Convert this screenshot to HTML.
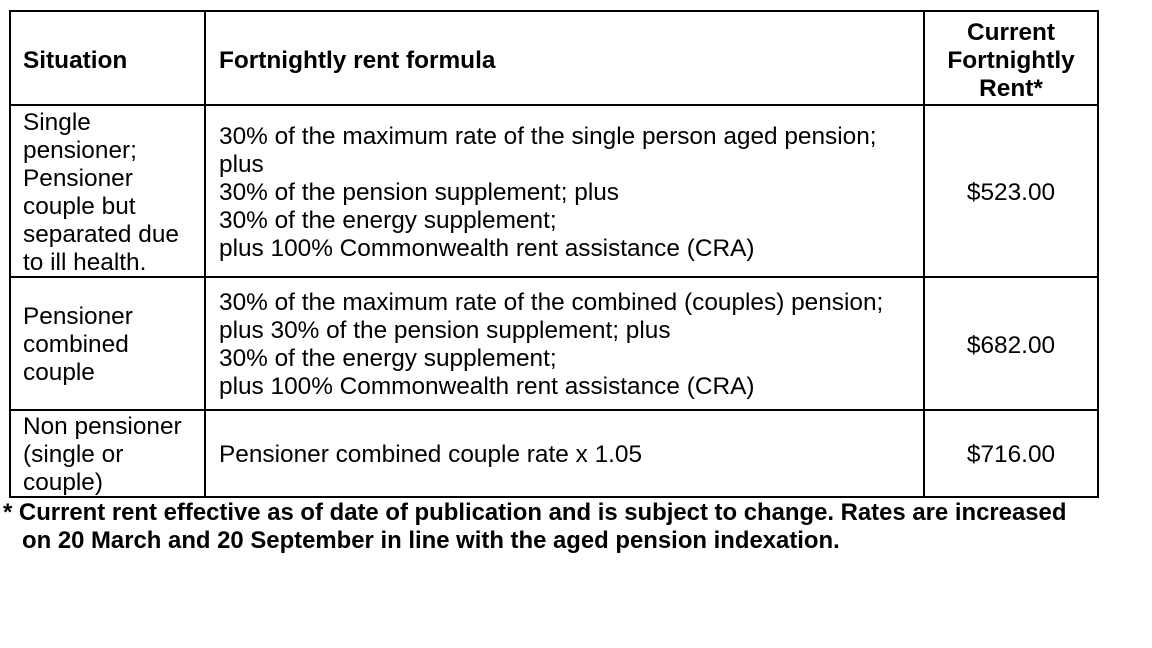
<!DOCTYPE html>
<html><head><style>
body{margin:0;width:1152px;height:648px;background:#fff;position:relative;font-family:"Liberation Sans",Arial,sans-serif;color:#000;overflow:hidden}
.l{position:absolute;background:#000}
.t{position:absolute;font-size:24.4px;line-height:28px;white-space:nowrap}
.b{font-weight:bold}
.c{text-align:center}
.f{font-size:23.9px}
</style></head><body>
<div class="l" style="left:9px;top:10px;width:1090px;height:2px"></div>
<div class="l" style="left:9px;top:496px;width:1090px;height:2px"></div>
<div class="l" style="left:9px;top:10px;width:2px;height:488px"></div>
<div class="l" style="left:1097px;top:10px;width:2px;height:488px"></div>
<div class="l" style="left:204px;top:10px;width:2px;height:488px"></div>
<div class="l" style="left:923px;top:10px;width:2px;height:488px"></div>
<div class="l" style="left:9px;top:104px;width:1090px;height:2px"></div>
<div class="l" style="left:9px;top:276px;width:1090px;height:2px"></div>
<div class="l" style="left:9px;top:409px;width:1090px;height:2px"></div>

<div class="t b" style="left:23px;top:47px">Situation</div>
<div class="t b" style="left:219px;top:47px">Fortnightly rent formula</div>
<div class="t b c" style="left:925px;width:172px;top:19px">Current<br>Fortnightly<br>Rent*</div>

<div class="t" style="left:23px;top:109px">Single<br>pensioner;<br>Pensioner<br>couple but<br>separated due<br>to ill health.</div>
<div class="t" style="left:219px;top:123px">30% of the maximum rate of the single person aged pension;<br>plus<br>30% of the pension supplement; plus<br>30% of the energy supplement;<br>plus 100% Commonwealth rent assistance (CRA)</div>
<div class="t c" style="left:925px;width:172px;top:179px">$523.00</div>

<div class="t" style="left:23px;top:303px">Pensioner<br>combined<br>couple</div>
<div class="t" style="left:219px;top:289px">30% of the maximum rate of the combined (couples) pension;<br>plus 30% of the pension supplement; plus<br>30% of the energy supplement;<br>plus 100% Commonwealth rent assistance (CRA)</div>
<div class="t c" style="left:925px;width:172px;top:332px">$682.00</div>

<div class="t" style="left:23px;top:413px">Non pensioner<br>(single or<br>couple)</div>
<div class="t" style="left:219px;top:441px">Pensioner combined couple rate x 1.05</div>
<div class="t c" style="left:925px;width:172px;top:441px">$716.00</div>

<div class="t b f" style="left:3px;top:499px">* Current rent effective as of date of publication and is subject to change. Rates are increased</div>
<div class="t b f" style="left:22px;top:527px">on 20 March and 20 September in line with the aged pension indexation.</div>
</body></html>
